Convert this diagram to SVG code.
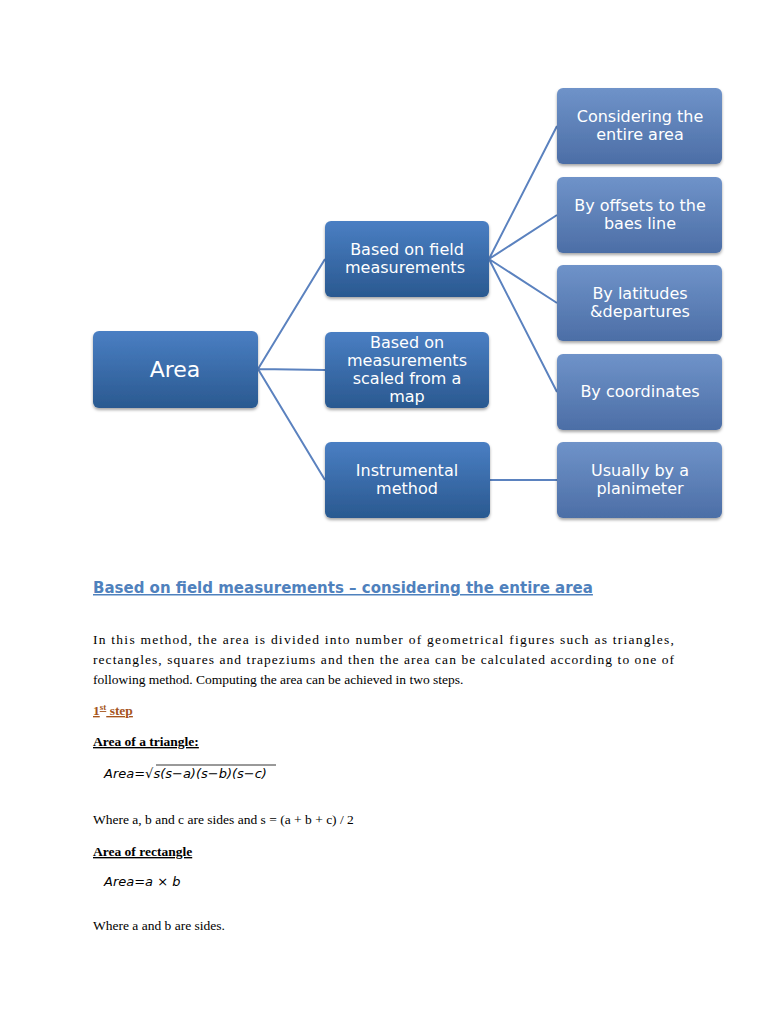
<svg xmlns="http://www.w3.org/2000/svg" width="768" height="1024" viewBox="0 0 768 1024">
<defs>
<linearGradient id="gm" x1="0" y1="0" x2="0" y2="1"><stop offset="0" stop-color="#4a7fc3"/><stop offset="1" stop-color="#2a5990"/></linearGradient>
<linearGradient id="gr" x1="0" y1="0" x2="0" y2="1"><stop offset="0" stop-color="#6f93c9"/><stop offset="1" stop-color="#4c6ea6"/></linearGradient>
<filter id="sh" x="-10%" y="-10%" width="130%" height="140%"><feDropShadow dx="0" dy="2" stdDeviation="1.5" flood-color="#000" flood-opacity="0.35"/></filter>
</defs>
<style>
.m{fill:url(#gm);filter:url(#sh)}
.r{fill:url(#gr);filter:url(#sh)}
.t{font-family:"DejaVu Sans",sans-serif;font-size:16px;fill:#fff;text-anchor:middle}
.c{stroke:#5b82bf;stroke-width:2;fill:none}
.s{font-family:"Liberation Serif",serif;font-size:13.5px;fill:#000}
.f{font-family:"DejaVu Sans",sans-serif;font-style:italic;font-size:13px;fill:#000}
</style>
<rect width="768" height="1024" fill="#fff"/>
<g id="connectors">
<path class="c" d="M258 369L325 259M258 369L325 370M258 369L325 480M489 259L557 126M489 259L557 215M489 259L557 303M489 259L557 392M490 480L557 480"/>
</g>
<g id="area"><rect class="m" x="93" y="331" width="165" height="77" rx="6"/><text class="t" x="175" y="377" font-size="22" style="font-size:22px">Area</text></g>
<g id="field"><rect class="m" x="325" y="221" width="164" height="76" rx="6"/><text class="t" x="407" y="255">Based on field</text><text class="t" x="405" y="273">measurements</text></g>
<g id="map"><rect class="m" x="325" y="332" width="164" height="76" rx="6"/><text class="t" x="407" y="348">Based on</text><text class="t" x="407" y="366">measurements</text><text class="t" x="407" y="384">scaled from a</text><text class="t" x="407" y="402">map</text></g>
<g id="instr"><rect class="m" x="325" y="442" width="165" height="76" rx="6"/><text class="t" x="407" y="476">Instrumental</text><text class="t" x="407" y="494">method</text></g>
<g id="entire"><rect class="r" x="557" y="88" width="165" height="76" rx="6"/><text class="t" x="640" y="122">Considering the</text><text class="t" x="640" y="140">entire area</text></g>
<g id="offsets"><rect class="r" x="557" y="177" width="165" height="76" rx="6"/><text class="t" x="640" y="211">By offsets to the</text><text class="t" x="640" y="229">baes line</text></g>
<g id="latitudes"><rect class="r" x="557" y="265" width="165" height="76" rx="6"/><text class="t" x="640" y="299">By latitudes</text><text class="t" x="640" y="317">&amp;departures</text></g>
<g id="coords"><rect class="r" x="557" y="354" width="165" height="76" rx="6"/><text class="t" x="640" y="397">By coordinates</text></g>
<g id="planimeter"><rect class="r" x="557" y="442" width="165" height="76" rx="6"/><text class="t" x="640" y="476">Usually by a</text><text class="t" x="640" y="494">planimeter</text></g>
<text x="93" y="593" font-family="DejaVu Sans,sans-serif" font-size="15" font-weight="bold" fill="#4f81bd" text-decoration="underline">Based on field measurements – considering the entire area</text>
<text class="s" x="93" y="644" textLength="581" lengthAdjust="spacing">In this method, the area is divided into number of geometrical figures such as triangles,</text>
<text class="s" x="93" y="664" textLength="581" lengthAdjust="spacing">rectangles, squares and trapeziums and then the area can be calculated according to one of</text>
<text class="s" x="93" y="684">following method. Computing the area can be achieved in two steps.</text>
<text x="93" y="715" font-family="Liberation Serif,serif" font-size="13.5" font-weight="bold" fill="#a5541c" text-decoration="underline">1<tspan dy="-5" font-size="9">st</tspan><tspan dy="5"> step</tspan></text>
<text class="s" x="93" y="746" font-weight="bold" text-decoration="underline">Area of a triangle:</text>
<text class="f" x="104" y="778">Area=√s(s−a)(s−b)(s−c)</text>
<line x1="156" y1="765" x2="276" y2="765" stroke="#000" stroke-width="0.8"/>
<text class="s" x="93" y="824">Where a, b and c are sides and s = (a + b + c) / 2</text>
<text class="s" x="93" y="856" font-weight="bold" text-decoration="underline">Area of rectangle</text>
<text class="f" x="104" y="886">Area=a × b</text>
<text class="s" x="93" y="930">Where a and b are sides.</text>
</svg>
